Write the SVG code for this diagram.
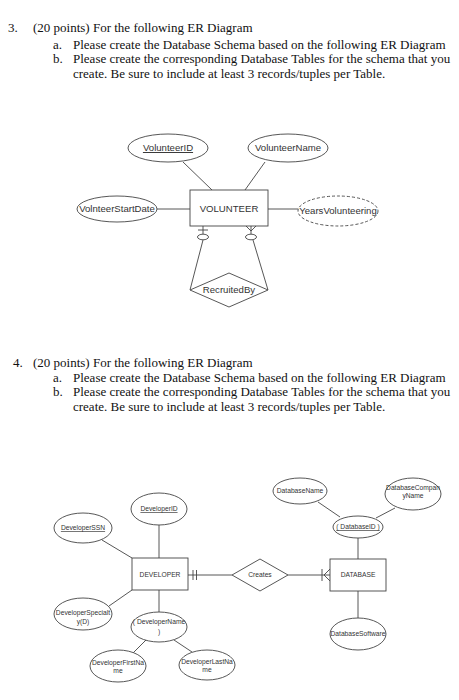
<svg xmlns="http://www.w3.org/2000/svg" width="459" height="700" viewBox="0 0 459 700">
<style>
.q{font-family:"Liberation Serif","Times New Roman",serif;font-size:13px;fill:#111}
.t1{font-family:"Liberation Sans",Arial,sans-serif;font-size:9.6px;fill:#333;text-anchor:middle}
.t2{font-family:"Liberation Sans",Arial,sans-serif;font-size:6.7px;fill:#333;text-anchor:middle}
.s{fill:#fff;stroke:#444;stroke-width:0.9}
.l{fill:none;stroke:#444;stroke-width:0.9}
.u{text-decoration:underline}
</style>
<rect width="459" height="700" fill="#fff"/>
<g id="question3">
<text class="q" x="8" y="32">3.</text>
<text class="q" x="33" y="32">(20 points) For the following ER Diagram</text>
<text class="q" x="53" y="49">a.</text>
<text class="q" x="73" y="49">Please create the Database Schema based on the following ER Diagram</text>
<text class="q" x="53" y="63">b.</text>
<text class="q" x="73" y="63">Please create the corresponding Database Tables for the schema that you</text>
<text class="q" x="73" y="78">create. Be sure to include at least 3 records/tuples per Table.</text>
</g>
<g id="question4">
<text class="q" x="13" y="367">4.</text>
<text class="q" x="33" y="367">(20 points) For the following ER Diagram</text>
<text class="q" x="53" y="382">a.</text>
<text class="q" x="73" y="382">Please create the Database Schema based on the following ER Diagram</text>
<text class="q" x="53" y="396">b.</text>
<text class="q" x="73" y="396">Please create the corresponding Database Tables for the schema that you</text>
<text class="q" x="73" y="411">create. Be sure to include at least 3 records/tuples per Table.</text>
</g>
<g id="connectors">
<line class="l" x1="183" y1="162" x2="212" y2="190"/>
<line class="l" x1="265" y1="162" x2="245" y2="190"/>
<line class="l" x1="157" y1="209" x2="190" y2="209"/>
<line class="l" x1="268" y1="209" x2="298" y2="209"/>
<line class="l" x1="203" y1="226" x2="203" y2="234"/>
<line class="l" x1="198" y1="230" x2="208" y2="230"/>
<ellipse class="l" cx="203" cy="237" rx="5.5" ry="2.8"/>
<line class="l" x1="203" y1="240" x2="190" y2="290"/>
<line class="l" x1="251" y1="226" x2="251" y2="234"/>
<line class="l" x1="246" y1="226" x2="251" y2="231"/>
<line class="l" x1="256" y1="226" x2="251" y2="231"/>
<ellipse class="l" cx="251" cy="237" rx="5.5" ry="2.8"/>
<line class="l" x1="253" y1="240" x2="268" y2="290"/>
<line class="l" x1="159" y1="525" x2="159" y2="558"/>
<line class="l" x1="102" y1="540" x2="132" y2="558"/>
<line class="l" x1="109" y1="606" x2="132" y2="590"/>
<line class="l" x1="159" y1="590" x2="159" y2="612"/>
<line class="l" x1="146" y1="640" x2="133" y2="653"/>
<line class="l" x1="174" y1="640" x2="192" y2="652"/>
<line class="l" x1="188" y1="575" x2="232" y2="575"/>
<line class="l" x1="193" y1="570" x2="193" y2="580"/>
<line class="l" x1="196.5" y1="570" x2="196.5" y2="580"/>
<line class="l" x1="288" y1="575" x2="330" y2="575"/>
<line class="l" x1="322" y1="569" x2="322" y2="581"/>
<line class="l" x1="324" y1="575" x2="330" y2="569"/>
<line class="l" x1="324" y1="575" x2="330" y2="581"/>
<line class="l" x1="358" y1="538" x2="358" y2="559"/>
<line class="l" x1="318" y1="502" x2="340" y2="517"/>
<line class="l" x1="395" y1="508" x2="376" y2="518"/>
<line class="l" x1="358" y1="591" x2="358" y2="618"/>
</g>
<g id="VOLUNTEER">
<rect class="s" x="190" y="190" width="78" height="36"/>
<text class="t1" x="229" y="212">VOLUNTEER</text>
</g>
<g id="VolunteerID">
<ellipse class="s" cx="168" cy="148" rx="40" ry="14"/>
<text class="t1 u" x="168" y="151">VolunteerID</text>
</g>
<g id="VolunteerName">
<ellipse class="s" cx="288" cy="148" rx="40" ry="14"/>
<text class="t1" x="288" y="151">VolunteerName</text>
</g>
<g id="VolnteerStartDate">
<ellipse class="s" cx="117" cy="209" rx="40" ry="13"/>
<text class="t1" x="117" y="212">VolnteerStartDate</text>
</g>
<g id="YearsVolunteering">
<ellipse class="s" cx="338" cy="211" rx="40" ry="15" stroke-dasharray="3 2"/>
<text class="t1" x="338" y="214">YearsVolunteering</text>
</g>
<g id="RecruitedBy">
<polygon class="s" points="190,290 229,273 268,290 229,307"/>
<text class="t1" x="229" y="293">RecruitedBy</text>
</g>
<g id="DEVELOPER">
<rect class="s" x="132" y="558" width="56" height="32"/>
<text class="t2" x="160" y="577">DEVELOPER</text>
</g>
<g id="DeveloperID">
<ellipse class="s" cx="159" cy="509" rx="28" ry="16"/>
<text class="t2 u" x="159" y="511">DeveloperID</text>
</g>
<g id="DeveloperSSN">
<ellipse class="s" cx="83" cy="528" rx="29" ry="15"/>
<text class="t2 u" x="83" y="530">DeveloperSSN</text>
</g>
<g id="DeveloperSpecialty">
<ellipse class="s" cx="83" cy="614" rx="29" ry="16"/>
<text class="t2" x="83" y="615">DeveloperSpecialt</text>
<text class="t2" x="83" y="624">y(D)</text>
</g>
<g id="DeveloperName">
<ellipse class="s" cx="159" cy="627" rx="28" ry="15"/>
<text class="t2" x="159" y="624">( DeveloperName</text>
<text class="t2" x="159" y="634">)</text>
</g>
<g id="DeveloperFirstName">
<ellipse class="s" cx="118" cy="666" rx="28" ry="16"/>
<text class="t2" x="118" y="665">DeveloperFirstNa</text>
<text class="t2" x="118" y="673">me</text>
</g>
<g id="DeveloperLastName">
<ellipse class="s" cx="207" cy="665" rx="28" ry="15"/>
<text class="t2" x="207" y="664">DeveloperLastNa</text>
<text class="t2" x="207" y="672">me</text>
</g>
<g id="Creates">
<polygon class="s" points="232,575 260,559 288,575 260,591"/>
<text class="t2" x="260" y="577">Creates</text>
</g>
<g id="DATABASE">
<rect class="s" x="330" y="559" width="56" height="32"/>
<text class="t2" x="358" y="577">DATABASE</text>
</g>
<g id="DatabaseID">
<ellipse class="s" cx="358" cy="527" rx="25" ry="11"/>
<text class="t2 u" x="358" y="529">( DatabaseID )</text>
</g>
<g id="DatabaseName">
<ellipse class="s" cx="300" cy="491" rx="27" ry="13"/>
<text class="t2" x="300" y="493">DatabaseName</text>
</g>
<g id="DatabaseCompanyName">
<ellipse class="s" cx="413" cy="494" rx="28" ry="16"/>
<text class="t2" x="413" y="490">DatabaseCompan</text>
<text class="t2" x="413" y="498">yName</text>
</g>
<g id="DatabaseSoftware">
<ellipse class="s" cx="358" cy="634" rx="28" ry="16"/>
<text class="t2" x="358" y="636">DatabaseSoftware</text>
</g>
</svg>
